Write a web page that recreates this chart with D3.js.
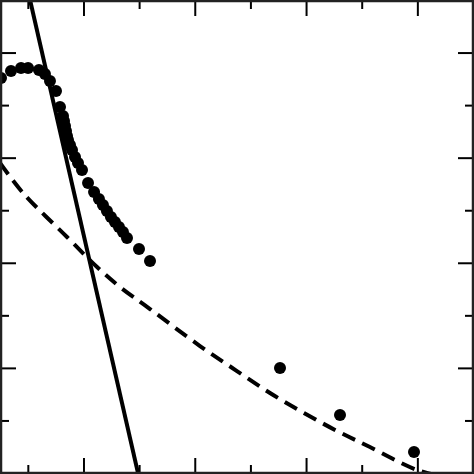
<!DOCTYPE html>
<html>
<head>
<meta charset="utf-8">
<script src="https://cdnjs.cloudflare.com/ajax/libs/d3/7.8.5/d3.min.js"></script>
<style>
   body { margin: 0; background: #fff; }
   svg { display: block; }
</style>
</head>
<body>
<div id="chart"></div>
<script>

   // measured points (filled circles)
   var pointX = [-0.741, -0.651, -0.561, -0.498, -0.400, -0.346, -0.301, -0.247, -0.211,
      -0.184, -0.175, -0.166, -0.157, -0.148, -0.139, -0.121, -0.103, -0.076, -0.049,
      -0.013, 0.041, 0.095, 0.139, 0.175, 0.211, 0.247, 0.283, 0.319, 0.355, 0.391,
      0.499, 0.598, 1.766, 2.305, 2.970];
   var pointY = [3.758, 3.825, 3.853, 3.853, 3.834, 3.796, 3.730, 3.635, 3.482,
      3.397, 3.349, 3.302, 3.254, 3.206, 3.168, 3.121, 3.073, 3.007, 2.950,
      2.883, 2.759, 2.674, 2.607, 2.550, 2.493, 2.436, 2.388, 2.341, 2.293, 2.236,
      2.131, 2.017, 0.999, 0.552, 0.200];

   // solid straight line (end points, clipped by plot)
   var solidX = [-0.50, 0.50];
   var solidY = [4.593, -0.047];

   // dashed curve
   var dashX = [-0.75, -0.543, -0.148, 0.122, 0.328, 0.598, 1.047, 1.379, 1.676,
      1.981, 2.278, 2.574, 2.997, 3.293];
   var dashY = [2.950, 2.664, 2.245, 1.960, 1.770, 1.560, 1.208, 0.970, 0.761,
      0.571, 0.400, 0.247, 0.029, -0.048];

   // tick positions (no labels in the picture)
   var xMajorTicks = [0, 1, 2, 3];
   var xMinorTicks = [-0.5, 0.5, 1.5, 2.5];
   var yMajorTicks = [1, 2, 3, 4];
   var yMinorTicks = [0.5, 1.5, 2.5, 3.5];

   var W = 474, H = 474;
   var LEFT = 1, TOP = 1, RIGHT = 473, BOTTOM = 473;
   var MAJOR_LEN = 15, MINOR_LEN = 8;

   var x = d3.scaleLinear().domain([-0.75, 3.5]).range([0, 473]);
   var y = d3.scaleLinear().domain([0, 4.5]).range([473, 0]);

   var svg = d3.select('#chart').append('svg')
      .attr('width', W)
      .attr('height', H);

   svg.append('defs').append('clipPath')
      .attr('id', 'plotClip')
      .append('rect')
      .attr('x', LEFT).attr('y', TOP)
      .attr('width', RIGHT - LEFT).attr('height', BOTTOM - TOP);

   var plot = svg.append('g').attr('clip-path', 'url(#plotClip)');

   // dashed curve
   var dashData = dashX.map(function(d, i){ return [d, dashY[i]]; });
   plot.append('path')
      .datum(dashData)
      .attr('fill', 'none')
      .attr('stroke', '#000')
      .attr('stroke-width', 4)
      .attr('stroke-dasharray', '14,8')
      .attr('d', d3.line()
         .x(function(d){ return x(d[0]); })
         .y(function(d){ return y(d[1]); })
         .curve(d3.curveCatmullRom));

   // solid line
   var solidData = solidX.map(function(d, i){ return [d, solidY[i]]; });
   plot.append('path')
      .datum(solidData)
      .attr('fill', 'none')
      .attr('stroke', '#000')
      .attr('stroke-width', 4)
      .attr('d', d3.line()
         .x(function(d){ return x(d[0]); })
         .y(function(d){ return y(d[1]); }));

   // points
   plot.selectAll('circle')
      .data(pointX)
      .enter()
      .append('circle')
      .attr('cx', function(d){ return x(d); })
      .attr('cy', function(d, i){ return y(pointY[i]); })
      .attr('r', 6)
      .attr('fill', '#000');

   // inward ticks on all four sides
   function addAxis(axis, transform, len){
      var g = svg.append('g')
         .attr('transform', transform)
         .call(axis.tickSize(-len).tickFormat(''));
      g.select('.domain').remove();
      g.selectAll('.tick line')
         .attr('stroke', '#000')
         .attr('stroke-width', 2);
   }

   addAxis(d3.axisBottom(x).tickValues(xMajorTicks), 'translate(0,' + BOTTOM + ')', MAJOR_LEN);
   addAxis(d3.axisBottom(x).tickValues(xMinorTicks), 'translate(0,' + BOTTOM + ')', MINOR_LEN);
   addAxis(d3.axisTop(x).tickValues(xMajorTicks), 'translate(0,' + TOP + ')', MAJOR_LEN);
   addAxis(d3.axisTop(x).tickValues(xMinorTicks), 'translate(0,' + TOP + ')', MINOR_LEN);
   addAxis(d3.axisLeft(y).tickValues(yMajorTicks), 'translate(' + LEFT + ',0)', MAJOR_LEN);
   addAxis(d3.axisLeft(y).tickValues(yMinorTicks), 'translate(' + LEFT + ',0)', MINOR_LEN);
   addAxis(d3.axisRight(y).tickValues(yMajorTicks), 'translate(' + RIGHT + ',0)', MAJOR_LEN);
   addAxis(d3.axisRight(y).tickValues(yMinorTicks), 'translate(' + RIGHT + ',0)', MINOR_LEN);

   // frame
   svg.append('rect')
      .attr('x', LEFT).attr('y', TOP)
      .attr('width', RIGHT - LEFT).attr('height', BOTTOM - TOP)
      .attr('fill', 'none')
      .attr('stroke', '#222')
      .attr('stroke-width', 2.5);

</script>
</body>
</html>
